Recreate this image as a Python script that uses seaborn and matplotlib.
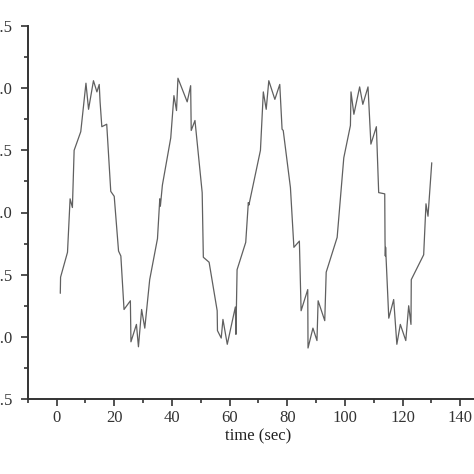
import numpy as np
import pandas as pd
import matplotlib
matplotlib.use("Agg")
import matplotlib.pyplot as plt
from matplotlib.ticker import MultipleLocator
import seaborn as sns

# --- digitised signal (time in sec, amplitude) ---
time_sec = [1.3, 1.4, 3.8, 4.7, 5.5, 6.1, 8.4, 10.2, 11.1, 12.8, 14.0, 14.8, 15.1, 15.7,
            17.4, 18.8, 20.0, 21.5, 22.3, 23.4, 25.6, 25.8, 27.7, 28.4, 29.5, 30.6,
            32.3, 35.0, 35.8, 36.0, 36.7, 39.6, 40.7, 41.6, 42.1, 45.3, 46.5, 46.7,
            48.0, 50.5, 50.9, 52.9, 55.7, 55.8, 57.1, 57.7, 59.2, 62.0, 62.2, 62.6,
            65.6, 66.5, 66.7, 70.7, 71.7, 72.7, 73.6, 75.7, 77.4, 78.2, 78.6, 81.1,
            82.3, 84.2, 84.8, 87.1, 87.2, 88.9, 90.3, 90.7, 93.0, 93.5, 97.3, 99.6,
            101.9, 102.1, 103.1, 105.1, 106.2, 108.0, 109.0, 110.9, 111.7, 113.8,
            113.9, 114.0, 114.1, 115.2, 116.9, 118.0, 119.2, 121.1, 122.1, 122.9,
            123.0, 127.3, 128.1, 128.8, 130.1]
amplitude = [-0.65, -0.52, -0.32, 0.11, 0.04, 0.50, 0.65, 1.04, 0.83, 1.06, 0.97, 1.03, 0.89, 0.69,
             0.71, 0.17, 0.13, -0.31, -0.35, -0.78, -0.71, -1.04, -0.90, -1.08, -0.78, -0.93,
             -0.54, -0.21, 0.11, 0.05, 0.22, 0.60, 0.94, 0.82, 1.08, 0.89, 1.02, 0.66,
             0.74, 0.16, -0.36, -0.40, -0.79, -0.95, -1.01, -0.86, -1.06, -0.76, -0.98, -0.46,
             -0.24, 0.08, 0.06, 0.50, 0.97, 0.83, 1.06, 0.91, 1.03, 0.67, 0.66, 0.20,
             -0.28, -0.23, -0.79, -0.62, -1.09, -0.93, -1.03, -0.71, -0.87, -0.48, -0.20, 0.44,
             0.70, 0.97, 0.79, 1.01, 0.87, 1.01, 0.55, 0.69, 0.16, 0.15,
             -0.23, -0.35, -0.28, -0.85, -0.70, -1.06, -0.90, -1.03, -0.75, -0.90,
             -0.54, -0.34, 0.07, -0.03, 0.40]

df = pd.DataFrame({"time": time_sec, "value": amplitude})

sns.set_style("ticks")
plt.rcParams["font.family"] = ["Liberation Serif", "DejaVu Serif"]

fig = plt.figure(figsize=(4.74, 4.74), dpi=100)
ax = fig.add_axes([27.7 / 474, 75 / 474, 160 * 2.884 / 474, 373 / 474])

sns.lineplot(data=df, x="time", y="value", sort=False, estimator=None,
             color="#606060", linewidth=0.9, ax=ax)

ax.set_xlim(-10, 150)
ax.set_ylim(-1.5, 1.5)
ax.xaxis.set_major_locator(MultipleLocator(20))
ax.xaxis.set_minor_locator(MultipleLocator(10))
ax.yaxis.set_major_locator(MultipleLocator(0.5))
ax.yaxis.set_minor_locator(MultipleLocator(0.25))
ax.tick_params(which="major", direction="out", length=5, width=1.2, labelsize=12,
               colors="#333333", pad=3)
ax.tick_params(axis="y", which="major", pad=6)
ax.tick_params(which="minor", direction="out", length=3, width=1.2, colors="#333333")
ax.set_xlabel("time (sec)", fontsize=12, color="#222222", labelpad=2)
ax.set_ylabel("")

for side in ["top", "right"]:
    ax.spines[side].set_visible(False)
for side in ["left", "bottom"]:
    ax.spines[side].set_linewidth(1.4)
    ax.spines[side].set_color("#333333")

fig.savefig("out.png", dpi=100)
